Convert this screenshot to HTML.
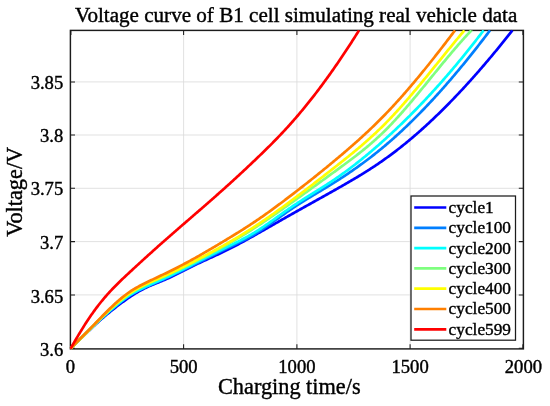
<!DOCTYPE html>
<html><head><meta charset="utf-8"><title>Voltage curve</title>
<style>
html,body{margin:0;padding:0;background:#fff;}
svg{display:block;font-family:"Liberation Serif","Times New Roman",serif;fill:#000;}
text{stroke:#000;stroke-width:0.4px;}
.tick{font-size:18.6px;}
.lab{font-size:22.3px;}
.ttl{font-size:21.1px;}
.leg{font-size:17.3px;}
</style></head><body>
<svg width="550" height="406" viewBox="0 0 550 406">
<rect x="0" y="0" width="550" height="406" fill="#fff"/>
<!-- grid -->
<g stroke="#dcdcdc" stroke-width="0.85" fill="none">
<line x1="183.6" y1="30.4" x2="183.6" y2="348.9"/>
<line x1="296.9" y1="30.4" x2="296.9" y2="348.9"/>
<line x1="410.1" y1="30.4" x2="410.1" y2="348.9"/>
<line x1="70.4" y1="294.9" x2="523.4" y2="294.9"/>
<line x1="70.4" y1="241.6" x2="523.4" y2="241.6"/>
<line x1="70.4" y1="188.3" x2="523.4" y2="188.3"/>
<line x1="70.4" y1="135.0" x2="523.4" y2="135.0"/>
<line x1="70.4" y1="81.9" x2="523.4" y2="81.9"/>
</g>
<!-- axes box and ticks -->
<g stroke="#1c1c1c" stroke-width="1.45" fill="none">
<rect x="70.4" y="30.4" width="453" height="318.5"/>
</g>
<g stroke="#1c1c1c" stroke-width="1.05" fill="none">
<path d="M183.6,348.9v-4.6M296.9,348.9v-4.6M410.1,348.9v-4.6M183.6,30.4v4.6M296.9,30.4v4.6M410.1,30.4v4.6"/>
<path d="M70.4,294.9h4.6M70.4,241.6h4.6M70.4,188.3h4.6M70.4,135.0h4.6M70.4,81.9h4.6M523.4,294.9h-4.6M523.4,241.6h-4.6M523.4,188.3h-4.6M523.4,135.0h-4.6M523.4,81.9h-4.6"/>
<path d="M70.4,348.3h4.6M523.4,348.3h-4.6M70.9,348.9v-4.6M522.9,348.9v-4.6M70.9,30.4v4.6M522.9,30.4v4.6"/>
</g>
<defs><clipPath id="bx"><rect x="69.7" y="29.7" width="454.4" height="319.9"/></clipPath></defs>
<g clip-path="url(#bx)">
<path d="M70.40,348.80 L71.40,347.79 L72.40,346.78 L73.40,345.78 L74.40,344.79 L75.40,343.79 L76.40,342.81 L77.40,341.82 L78.40,340.84 L79.40,339.86 L80.40,338.89 L81.40,337.91 L82.40,336.94 L83.40,335.97 L84.40,335.00 L85.40,334.04 L86.40,333.07 L87.40,332.10 L88.40,331.14 L89.40,330.18 L90.40,329.22 L91.40,328.27 L92.40,327.32 L93.40,326.38 L94.40,325.44 L95.40,324.51 L96.40,323.58 L97.40,322.67 L98.40,321.76 L99.40,320.86 L100.40,319.97 L101.40,319.09 L102.40,318.22 L103.40,317.36 L104.40,316.50 L105.40,315.66 L106.40,314.82 L107.40,313.99 L108.40,313.17 L109.40,312.36 L110.40,311.55 L111.40,310.75 L112.40,309.95 L113.40,309.16 L114.40,308.37 L115.40,307.59 L116.40,306.81 L117.40,306.04 L118.40,305.28 L119.40,304.52 L120.40,303.76 L121.40,303.01 L122.40,302.27 L123.40,301.54 L124.40,300.81 L125.40,300.09 L126.40,299.38 L127.40,298.68 L128.40,297.99 L129.40,297.31 L130.40,296.64 L131.40,295.98 L132.40,295.32 L133.40,294.68 L134.40,294.05 L135.40,293.44 L136.40,292.83 L137.40,292.24 L138.40,291.65 L139.40,291.08 L140.40,290.52 L141.40,289.98 L142.40,289.45 L143.40,288.93 L144.40,288.42 L145.40,287.93 L146.40,287.45 L147.40,286.99 L148.40,286.54 L149.40,286.09 L150.40,285.66 L151.40,285.23 L152.40,284.81 L153.40,284.40 L154.40,283.99 L155.40,283.58 L156.40,283.18 L157.40,282.78 L158.40,282.38 L159.40,281.98 L160.40,281.57 L161.40,281.17 L162.40,280.76 L163.40,280.34 L164.40,279.92 L165.40,279.49 L166.40,279.06 L167.40,278.61 L168.40,278.16 L169.40,277.71 L170.40,277.24 L171.40,276.77 L172.40,276.30 L173.40,275.82 L174.40,275.34 L175.40,274.85 L176.40,274.36 L177.40,273.86 L178.40,273.36 L179.40,272.86 L180.40,272.36 L181.40,271.86 L182.40,271.35 L183.40,270.84 L184.40,270.34 L185.40,269.83 L186.40,269.32 L187.40,268.82 L188.40,268.31 L189.40,267.81 L190.40,267.31 L191.40,266.81 L192.40,266.31 L193.40,265.82 L194.40,265.33 L195.40,264.84 L196.40,264.36 L197.40,263.88 L198.40,263.40 L199.40,262.93 L200.40,262.46 L201.40,262.00 L202.40,261.53 L203.40,261.07 L204.40,260.61 L205.40,260.16 L206.40,259.70 L207.40,259.24 L208.40,258.79 L209.40,258.33 L210.40,257.88 L211.40,257.42 L212.40,256.97 L213.40,256.51 L214.40,256.05 L215.40,255.59 L216.40,255.13 L217.40,254.67 L218.40,254.21 L219.40,253.74 L220.40,253.27 L221.40,252.80 L222.40,252.33 L223.40,251.85 L224.40,251.36 L225.40,250.88 L226.40,250.39 L227.40,249.89 L228.40,249.39 L229.40,248.89 L230.40,248.38 L231.40,247.87 L232.40,247.36 L233.40,246.84 L234.40,246.32 L235.40,245.79 L236.40,245.27 L237.40,244.74 L238.40,244.21 L239.40,243.67 L240.40,243.13 L241.40,242.59 L242.40,242.05 L243.40,241.50 L244.40,240.95 L245.40,240.41 L246.40,239.85 L247.40,239.30 L248.40,238.75 L249.40,238.19 L250.40,237.63 L251.40,237.07 L252.40,236.51 L253.40,235.95 L254.40,235.39 L255.40,234.82 L256.40,234.26 L257.40,233.69 L258.40,233.13 L259.40,232.56 L260.40,231.99 L261.40,231.43 L262.40,230.86 L263.40,230.29 L264.40,229.72 L265.40,229.15 L266.40,228.58 L267.40,228.01 L268.40,227.44 L269.40,226.87 L270.40,226.30 L271.40,225.73 L272.40,225.16 L273.40,224.59 L274.40,224.01 L275.40,223.44 L276.40,222.87 L277.40,222.30 L278.40,221.73 L279.40,221.16 L280.40,220.59 L281.40,220.02 L282.40,219.45 L283.40,218.88 L284.40,218.31 L285.40,217.74 L286.40,217.17 L287.40,216.61 L288.40,216.04 L289.40,215.47 L290.40,214.91 L291.40,214.34 L292.40,213.78 L293.40,213.22 L294.40,212.65 L295.40,212.09 L296.40,211.53 L297.40,210.97 L298.40,210.41 L299.40,209.85 L300.40,209.29 L301.40,208.73 L302.40,208.17 L303.40,207.61 L304.40,207.05 L305.40,206.49 L306.40,205.93 L307.40,205.37 L308.40,204.82 L309.40,204.26 L310.40,203.70 L311.40,203.14 L312.40,202.59 L313.40,202.03 L314.40,201.47 L315.40,200.92 L316.40,200.36 L317.40,199.80 L318.40,199.24 L319.40,198.68 L320.40,198.13 L321.40,197.57 L322.40,197.01 L323.40,196.45 L324.40,195.89 L325.40,195.33 L326.40,194.77 L327.40,194.21 L328.40,193.65 L329.40,193.09 L330.40,192.53 L331.40,191.97 L332.40,191.41 L333.40,190.84 L334.40,190.28 L335.40,189.72 L336.40,189.15 L337.40,188.59 L338.40,188.02 L339.40,187.45 L340.40,186.88 L341.40,186.31 L342.40,185.74 L343.40,185.17 L344.40,184.60 L345.40,184.02 L346.40,183.44 L347.40,182.86 L348.40,182.28 L349.40,181.70 L350.40,181.12 L351.40,180.53 L352.40,179.94 L353.40,179.35 L354.40,178.76 L355.40,178.16 L356.40,177.57 L357.40,176.97 L358.40,176.36 L359.40,175.76 L360.40,175.15 L361.40,174.54 L362.40,173.92 L363.40,173.30 L364.40,172.68 L365.40,172.06 L366.40,171.43 L367.40,170.80 L368.40,170.16 L369.40,169.52 L370.40,168.88 L371.40,168.23 L372.40,167.58 L373.40,166.93 L374.40,166.27 L375.40,165.61 L376.40,164.94 L377.40,164.27 L378.40,163.59 L379.40,162.91 L380.40,162.22 L381.40,161.53 L382.40,160.84 L383.40,160.14 L384.40,159.43 L385.40,158.72 L386.40,158.01 L387.40,157.28 L388.40,156.56 L389.40,155.83 L390.40,155.09 L391.40,154.35 L392.40,153.60 L393.40,152.85 L394.40,152.09 L395.40,151.33 L396.40,150.56 L397.40,149.79 L398.40,149.01 L399.40,148.23 L400.40,147.44 L401.40,146.65 L402.40,145.85 L403.40,145.05 L404.40,144.24 L405.40,143.43 L406.40,142.61 L407.40,141.79 L408.40,140.96 L409.40,140.13 L410.40,139.29 L411.40,138.45 L412.40,137.60 L413.40,136.75 L414.40,135.90 L415.40,135.03 L416.40,134.17 L417.40,133.30 L418.40,132.42 L419.40,131.54 L420.40,130.65 L421.40,129.76 L422.40,128.87 L423.40,127.97 L424.40,127.06 L425.40,126.15 L426.40,125.24 L427.40,124.32 L428.40,123.40 L429.40,122.47 L430.40,121.54 L431.40,120.60 L432.40,119.66 L433.40,118.71 L434.40,117.76 L435.40,116.80 L436.40,115.84 L437.40,114.88 L438.40,113.91 L439.40,112.93 L440.40,111.95 L441.40,110.97 L442.40,109.98 L443.40,108.99 L444.40,107.99 L445.40,106.99 L446.40,105.99 L447.40,104.98 L448.40,103.96 L449.40,102.94 L450.40,101.92 L451.40,100.89 L452.40,99.86 L453.40,98.82 L454.40,97.78 L455.40,96.74 L456.40,95.69 L457.40,94.63 L458.40,93.57 L459.40,92.51 L460.40,91.44 L461.40,90.37 L462.40,89.30 L463.40,88.22 L464.40,87.13 L465.40,86.05 L466.40,84.95 L467.40,83.86 L468.40,82.76 L469.40,81.65 L470.40,80.54 L471.40,79.43 L472.40,78.31 L473.40,77.19 L474.40,76.06 L475.40,74.93 L476.40,73.80 L477.40,72.66 L478.40,71.52 L479.40,70.37 L480.40,69.22 L481.40,68.07 L482.40,66.91 L483.40,65.75 L484.40,64.58 L485.40,63.41 L486.40,62.24 L487.40,61.06 L488.40,59.88 L489.40,58.69 L490.40,57.50 L491.40,56.31 L492.40,55.11 L493.40,53.91 L494.40,52.71 L495.40,51.50 L496.40,50.28 L497.40,49.07 L498.40,47.85 L499.40,46.62 L500.40,45.39 L501.40,44.16 L502.40,42.93 L503.40,41.69 L504.40,40.44 L505.40,39.20 L506.40,37.95 L507.40,36.69 L508.40,35.43 L509.40,34.17 L510.40,32.91 L511.40,31.64 L512.37,30.40" fill="none" stroke="#0000ff" stroke-width="2.7" stroke-linejoin="round"/>
<path d="M70.40,348.80 L71.40,347.77 L72.40,346.75 L73.40,345.74 L74.40,344.73 L75.40,343.73 L76.40,342.74 L77.40,341.75 L78.40,340.77 L79.40,339.78 L80.40,338.80 L81.40,337.83 L82.40,336.85 L83.40,335.87 L84.40,334.89 L85.40,333.91 L86.40,332.93 L87.40,331.95 L88.40,330.96 L89.40,329.98 L90.40,329.00 L91.40,328.02 L92.40,327.04 L93.40,326.06 L94.40,325.09 L95.40,324.13 L96.40,323.17 L97.40,322.21 L98.40,321.27 L99.40,320.33 L100.40,319.40 L101.40,318.47 L102.40,317.56 L103.40,316.66 L104.40,315.76 L105.40,314.87 L106.40,313.99 L107.40,313.12 L108.40,312.25 L109.40,311.39 L110.40,310.54 L111.40,309.69 L112.40,308.85 L113.40,308.01 L114.40,307.18 L115.40,306.36 L116.40,305.54 L117.40,304.72 L118.40,303.92 L119.40,303.12 L120.40,302.33 L121.40,301.55 L122.40,300.78 L123.40,300.02 L124.40,299.28 L125.40,298.55 L126.40,297.84 L127.40,297.14 L128.40,296.46 L129.40,295.79 L130.40,295.15 L131.40,294.52 L132.40,293.92 L133.40,293.33 L134.40,292.75 L135.40,292.20 L136.40,291.65 L137.40,291.12 L138.40,290.60 L139.40,290.10 L140.40,289.60 L141.40,289.11 L142.40,288.63 L143.40,288.16 L144.40,287.70 L145.40,287.24 L146.40,286.79 L147.40,286.34 L148.40,285.90 L149.40,285.45 L150.40,285.02 L151.40,284.58 L152.40,284.15 L153.40,283.72 L154.40,283.29 L155.40,282.86 L156.40,282.43 L157.40,282.00 L158.40,281.57 L159.40,281.14 L160.40,280.71 L161.40,280.28 L162.40,279.84 L163.40,279.41 L164.40,278.97 L165.40,278.52 L166.40,278.07 L167.40,277.62 L168.40,277.16 L169.40,276.70 L170.40,276.24 L171.40,275.78 L172.40,275.31 L173.40,274.84 L174.40,274.36 L175.40,273.88 L176.40,273.40 L177.40,272.92 L178.40,272.44 L179.40,271.95 L180.40,271.46 L181.40,270.97 L182.40,270.48 L183.40,269.98 L184.40,269.49 L185.40,268.99 L186.40,268.49 L187.40,267.99 L188.40,267.49 L189.40,266.99 L190.40,266.49 L191.40,265.98 L192.40,265.48 L193.40,264.97 L194.40,264.47 L195.40,263.96 L196.40,263.46 L197.40,262.96 L198.40,262.45 L199.40,261.95 L200.40,261.44 L201.40,260.94 L202.40,260.43 L203.40,259.93 L204.40,259.43 L205.40,258.93 L206.40,258.42 L207.40,257.92 L208.40,257.42 L209.40,256.92 L210.40,256.42 L211.40,255.93 L212.40,255.43 L213.40,254.93 L214.40,254.44 L215.40,253.94 L216.40,253.45 L217.40,252.96 L218.40,252.47 L219.40,251.98 L220.40,251.49 L221.40,251.01 L222.40,250.52 L223.40,250.04 L224.40,249.56 L225.40,249.08 L226.40,248.60 L227.40,248.12 L228.40,247.65 L229.40,247.17 L230.40,246.70 L231.40,246.22 L232.40,245.74 L233.40,245.27 L234.40,244.79 L235.40,244.31 L236.40,243.82 L237.40,243.34 L238.40,242.85 L239.40,242.35 L240.40,241.86 L241.40,241.36 L242.40,240.85 L243.40,240.34 L244.40,239.83 L245.40,239.31 L246.40,238.78 L247.40,238.24 L248.40,237.70 L249.40,237.15 L250.40,236.60 L251.40,236.03 L252.40,235.46 L253.40,234.88 L254.40,234.29 L255.40,233.69 L256.40,233.08 L257.40,232.46 L258.40,231.83 L259.40,231.19 L260.40,230.55 L261.40,229.90 L262.40,229.24 L263.40,228.57 L264.40,227.90 L265.40,227.22 L266.40,226.54 L267.40,225.85 L268.40,225.16 L269.40,224.46 L270.40,223.76 L271.40,223.06 L272.40,222.35 L273.40,221.64 L274.40,220.93 L275.40,220.22 L276.40,219.51 L277.40,218.80 L278.40,218.08 L279.40,217.37 L280.40,216.66 L281.40,215.95 L282.40,215.24 L283.40,214.53 L284.40,213.83 L285.40,213.13 L286.40,212.43 L287.40,211.74 L288.40,211.05 L289.40,210.37 L290.40,209.69 L291.40,209.02 L292.40,208.35 L293.40,207.69 L294.40,207.03 L295.40,206.37 L296.40,205.73 L297.40,205.08 L298.40,204.44 L299.40,203.81 L300.40,203.17 L301.40,202.54 L302.40,201.92 L303.40,201.29 L304.40,200.67 L305.40,200.06 L306.40,199.44 L307.40,198.83 L308.40,198.22 L309.40,197.61 L310.40,197.01 L311.40,196.40 L312.40,195.80 L313.40,195.19 L314.40,194.59 L315.40,193.99 L316.40,193.39 L317.40,192.79 L318.40,192.19 L319.40,191.59 L320.40,190.99 L321.40,190.39 L322.40,189.79 L323.40,189.19 L324.40,188.58 L325.40,187.98 L326.40,187.37 L327.40,186.76 L328.40,186.16 L329.40,185.54 L330.40,184.93 L331.40,184.31 L332.40,183.70 L333.40,183.07 L334.40,182.45 L335.40,181.82 L336.40,181.19 L337.40,180.56 L338.40,179.92 L339.40,179.28 L340.40,178.63 L341.40,177.98 L342.40,177.33 L343.40,176.68 L344.40,176.02 L345.40,175.36 L346.40,174.69 L347.40,174.02 L348.40,173.34 L349.40,172.67 L350.40,171.98 L351.40,171.30 L352.40,170.61 L353.40,169.91 L354.40,169.22 L355.40,168.51 L356.40,167.81 L357.40,167.10 L358.40,166.38 L359.40,165.66 L360.40,164.94 L361.40,164.21 L362.40,163.48 L363.40,162.75 L364.40,162.01 L365.40,161.26 L366.40,160.51 L367.40,159.76 L368.40,159.00 L369.40,158.23 L370.40,157.47 L371.40,156.69 L372.40,155.92 L373.40,155.13 L374.40,154.35 L375.40,153.55 L376.40,152.76 L377.40,151.95 L378.40,151.15 L379.40,150.33 L380.40,149.52 L381.40,148.69 L382.40,147.87 L383.40,147.03 L384.40,146.20 L385.40,145.35 L386.40,144.50 L387.40,143.65 L388.40,142.79 L389.40,141.93 L390.40,141.06 L391.40,140.18 L392.40,139.30 L393.40,138.42 L394.40,137.52 L395.40,136.63 L396.40,135.73 L397.40,134.82 L398.40,133.91 L399.40,132.99 L400.40,132.07 L401.40,131.15 L402.40,130.21 L403.40,129.28 L404.40,128.33 L405.40,127.39 L406.40,126.44 L407.40,125.48 L408.40,124.52 L409.40,123.55 L410.40,122.58 L411.40,121.60 L412.40,120.62 L413.40,119.63 L414.40,118.64 L415.40,117.64 L416.40,116.64 L417.40,115.63 L418.40,114.62 L419.40,113.61 L420.40,112.59 L421.40,111.56 L422.40,110.53 L423.40,109.49 L424.40,108.45 L425.40,107.41 L426.40,106.36 L427.40,105.30 L428.40,104.24 L429.40,103.18 L430.40,102.11 L431.40,101.04 L432.40,99.96 L433.40,98.88 L434.40,97.79 L435.40,96.70 L436.40,95.60 L437.40,94.50 L438.40,93.39 L439.40,92.28 L440.40,91.16 L441.40,90.04 L442.40,88.92 L443.40,87.79 L444.40,86.66 L445.40,85.52 L446.40,84.38 L447.40,83.23 L448.40,82.08 L449.40,80.92 L450.40,79.76 L451.40,78.60 L452.40,77.43 L453.40,76.25 L454.40,75.08 L455.40,73.89 L456.40,72.71 L457.40,71.51 L458.40,70.32 L459.40,69.12 L460.40,67.92 L461.40,66.71 L462.40,65.49 L463.40,64.28 L464.40,63.06 L465.40,61.83 L466.40,60.60 L467.40,59.37 L468.40,58.13 L469.40,56.89 L470.40,55.64 L471.40,54.39 L472.40,53.13 L473.40,51.87 L474.40,50.61 L475.40,49.34 L476.40,48.07 L477.40,46.80 L478.40,45.52 L479.40,44.23 L480.40,42.95 L481.40,41.65 L482.40,40.36 L483.40,39.06 L484.40,37.75 L485.40,36.45 L486.40,35.13 L487.40,33.82 L488.40,32.50 L489.40,31.18 L489.98,30.40" fill="none" stroke="#007fff" stroke-width="2.7" stroke-linejoin="round"/>
<path d="M70.40,348.80 L71.40,347.77 L72.40,346.74 L73.40,345.73 L74.40,344.72 L75.40,343.72 L76.40,342.73 L77.40,341.74 L78.40,340.75 L79.40,339.77 L80.40,338.78 L81.40,337.80 L82.40,336.82 L83.40,335.84 L84.40,334.86 L85.40,333.87 L86.40,332.89 L87.40,331.90 L88.40,330.90 L89.40,329.91 L90.40,328.92 L91.40,327.93 L92.40,326.94 L93.40,325.96 L94.40,324.97 L95.40,324.00 L96.40,323.02 L97.40,322.06 L98.40,321.09 L99.40,320.14 L100.40,319.19 L101.40,318.26 L102.40,317.33 L103.40,316.41 L104.40,315.49 L105.40,314.59 L106.40,313.69 L107.40,312.80 L108.40,311.92 L109.40,311.04 L110.40,310.17 L111.40,309.31 L112.40,308.46 L113.40,307.61 L114.40,306.77 L115.40,305.94 L116.40,305.11 L117.40,304.29 L118.40,303.48 L119.40,302.68 L120.40,301.88 L121.40,301.10 L122.40,300.33 L123.40,299.58 L124.40,298.83 L125.40,298.11 L126.40,297.39 L127.40,296.70 L128.40,296.02 L129.40,295.36 L130.40,294.71 L131.40,294.09 L132.40,293.48 L133.40,292.90 L134.40,292.32 L135.40,291.77 L136.40,291.22 L137.40,290.69 L138.40,290.17 L139.40,289.67 L140.40,289.17 L141.40,288.68 L142.40,288.20 L143.40,287.72 L144.40,287.26 L145.40,286.79 L146.40,286.33 L147.40,285.88 L148.40,285.43 L149.40,284.98 L150.40,284.53 L151.40,284.09 L152.40,283.64 L153.40,283.20 L154.40,282.76 L155.40,282.32 L156.40,281.88 L157.40,281.44 L158.40,281.00 L159.40,280.55 L160.40,280.11 L161.40,279.66 L162.40,279.21 L163.40,278.76 L164.40,278.30 L165.40,277.84 L166.40,277.38 L167.40,276.91 L168.40,276.44 L169.40,275.96 L170.40,275.49 L171.40,275.00 L172.40,274.52 L173.40,274.03 L174.40,273.54 L175.40,273.05 L176.40,272.55 L177.40,272.06 L178.40,271.56 L179.40,271.05 L180.40,270.55 L181.40,270.04 L182.40,269.54 L183.40,269.03 L184.40,268.52 L185.40,268.01 L186.40,267.50 L187.40,266.98 L188.40,266.47 L189.40,265.96 L190.40,265.44 L191.40,264.93 L192.40,264.42 L193.40,263.90 L194.40,263.39 L195.40,262.88 L196.40,262.37 L197.40,261.85 L198.40,261.34 L199.40,260.83 L200.40,260.32 L201.40,259.81 L202.40,259.31 L203.40,258.80 L204.40,258.29 L205.40,257.78 L206.40,257.28 L207.40,256.77 L208.40,256.27 L209.40,255.77 L210.40,255.26 L211.40,254.76 L212.40,254.26 L213.40,253.76 L214.40,253.26 L215.40,252.76 L216.40,252.26 L217.40,251.76 L218.40,251.27 L219.40,250.77 L220.40,250.28 L221.40,249.78 L222.40,249.29 L223.40,248.80 L224.40,248.31 L225.40,247.81 L226.40,247.32 L227.40,246.84 L228.40,246.35 L229.40,245.86 L230.40,245.37 L231.40,244.87 L232.40,244.38 L233.40,243.89 L234.40,243.39 L235.40,242.89 L236.40,242.39 L237.40,241.89 L238.40,241.38 L239.40,240.87 L240.40,240.36 L241.40,239.84 L242.40,239.32 L243.40,238.79 L244.40,238.25 L245.40,237.71 L246.40,237.17 L247.40,236.62 L248.40,236.06 L249.40,235.50 L250.40,234.92 L251.40,234.34 L252.40,233.76 L253.40,233.16 L254.40,232.56 L255.40,231.94 L256.40,231.32 L257.40,230.69 L258.40,230.05 L259.40,229.41 L260.40,228.75 L261.40,228.09 L262.40,227.42 L263.40,226.75 L264.40,226.07 L265.40,225.39 L266.40,224.70 L267.40,224.00 L268.40,223.31 L269.40,222.61 L270.40,221.90 L271.40,221.19 L272.40,220.48 L273.40,219.77 L274.40,219.06 L275.40,218.35 L276.40,217.63 L277.40,216.91 L278.40,216.20 L279.40,215.48 L280.40,214.77 L281.40,214.06 L282.40,213.34 L283.40,212.64 L284.40,211.93 L285.40,211.23 L286.40,210.52 L287.40,209.83 L288.40,209.14 L289.40,208.45 L290.40,207.76 L291.40,207.09 L292.40,206.41 L293.40,205.74 L294.40,205.08 L295.40,204.42 L296.40,203.76 L297.40,203.11 L298.40,202.46 L299.40,201.82 L300.40,201.17 L301.40,200.54 L302.40,199.90 L303.40,199.26 L304.40,198.63 L305.40,198.00 L306.40,197.37 L307.40,196.74 L308.40,196.12 L309.40,195.49 L310.40,194.87 L311.40,194.24 L312.40,193.62 L313.40,193.00 L314.40,192.37 L315.40,191.75 L316.40,191.12 L317.40,190.50 L318.40,189.87 L319.40,189.24 L320.40,188.61 L321.40,187.98 L322.40,187.35 L323.40,186.71 L324.40,186.08 L325.40,185.44 L326.40,184.79 L327.40,184.15 L328.40,183.50 L329.40,182.84 L330.40,182.19 L331.40,181.52 L332.40,180.86 L333.40,180.19 L334.40,179.51 L335.40,178.83 L336.40,178.15 L337.40,177.46 L338.40,176.76 L339.40,176.06 L340.40,175.36 L341.40,174.65 L342.40,173.94 L343.40,173.22 L344.40,172.49 L345.40,171.76 L346.40,171.03 L347.40,170.29 L348.40,169.55 L349.40,168.80 L350.40,168.04 L351.40,167.29 L352.40,166.52 L353.40,165.76 L354.40,164.98 L355.40,164.21 L356.40,163.43 L357.40,162.64 L358.40,161.85 L359.40,161.06 L360.40,160.26 L361.40,159.45 L362.40,158.65 L363.40,157.83 L364.40,157.02 L365.40,156.20 L366.40,155.37 L367.40,154.54 L368.40,153.71 L369.40,152.87 L370.40,152.03 L371.40,151.18 L372.40,150.33 L373.40,149.48 L374.40,148.62 L375.40,147.75 L376.40,146.89 L377.40,146.02 L378.40,145.14 L379.40,144.26 L380.40,143.38 L381.40,142.49 L382.40,141.60 L383.40,140.71 L384.40,139.81 L385.40,138.91 L386.40,138.00 L387.40,137.09 L388.40,136.17 L389.40,135.26 L390.40,134.34 L391.40,133.41 L392.40,132.48 L393.40,131.55 L394.40,130.61 L395.40,129.67 L396.40,128.72 L397.40,127.77 L398.40,126.82 L399.40,125.86 L400.40,124.90 L401.40,123.94 L402.40,122.97 L403.40,122.00 L404.40,121.02 L405.40,120.04 L406.40,119.06 L407.40,118.07 L408.40,117.08 L409.40,116.08 L410.40,115.08 L411.40,114.07 L412.40,113.07 L413.40,112.05 L414.40,111.04 L415.40,110.02 L416.40,108.99 L417.40,107.96 L418.40,106.93 L419.40,105.89 L420.40,104.85 L421.40,103.80 L422.40,102.76 L423.40,101.70 L424.40,100.64 L425.40,99.58 L426.40,98.52 L427.40,97.45 L428.40,96.37 L429.40,95.29 L430.40,94.21 L431.40,93.12 L432.40,92.03 L433.40,90.94 L434.40,89.84 L435.40,88.74 L436.40,87.63 L437.40,86.52 L438.40,85.40 L439.40,84.28 L440.40,83.15 L441.40,82.03 L442.40,80.89 L443.40,79.75 L444.40,78.61 L445.40,77.47 L446.40,76.32 L447.40,75.16 L448.40,74.00 L449.40,72.84 L450.40,71.67 L451.40,70.50 L452.40,69.32 L453.40,68.14 L454.40,66.96 L455.40,65.77 L456.40,64.57 L457.40,63.38 L458.40,62.17 L459.40,60.97 L460.40,59.75 L461.40,58.54 L462.40,57.32 L463.40,56.09 L464.40,54.86 L465.40,53.63 L466.40,52.39 L467.40,51.15 L468.40,49.90 L469.40,48.65 L470.40,47.39 L471.40,46.13 L472.40,44.87 L473.40,43.60 L474.40,42.33 L475.40,41.05 L476.40,39.76 L477.40,38.48 L478.40,37.18 L479.40,35.89 L480.40,34.58 L481.40,33.28 L482.40,31.97 L483.40,30.65 L483.59,30.40" fill="none" stroke="#00ffff" stroke-width="2.7" stroke-linejoin="round"/>
<path d="M70.40,348.80 L71.40,347.77 L72.40,346.74 L73.40,345.72 L74.40,344.71 L75.40,343.70 L76.40,342.69 L77.40,341.69 L78.40,340.70 L79.40,339.70 L80.40,338.71 L81.40,337.72 L82.40,336.72 L83.40,335.73 L84.40,334.73 L85.40,333.73 L86.40,332.73 L87.40,331.72 L88.40,330.71 L89.40,329.70 L90.40,328.69 L91.40,327.68 L92.40,326.67 L93.40,325.66 L94.40,324.66 L95.40,323.65 L96.40,322.65 L97.40,321.66 L98.40,320.67 L99.40,319.68 L100.40,318.70 L101.40,317.73 L102.40,316.76 L103.40,315.80 L104.40,314.85 L105.40,313.90 L106.40,312.96 L107.40,312.03 L108.40,311.11 L109.40,310.19 L110.40,309.28 L111.40,308.38 L112.40,307.49 L113.40,306.61 L114.40,305.74 L115.40,304.87 L116.40,304.02 L117.40,303.17 L118.40,302.34 L119.40,301.51 L120.40,300.70 L121.40,299.90 L122.40,299.11 L123.40,298.33 L124.40,297.57 L125.40,296.82 L126.40,296.08 L127.40,295.36 L128.40,294.66 L129.40,293.97 L130.40,293.30 L131.40,292.64 L132.40,292.00 L133.40,291.37 L134.40,290.76 L135.40,290.17 L136.40,289.58 L137.40,289.01 L138.40,288.45 L139.40,287.91 L140.40,287.37 L141.40,286.85 L142.40,286.34 L143.40,285.83 L144.40,285.34 L145.40,284.85 L146.40,284.38 L147.40,283.91 L148.40,283.44 L149.40,282.98 L150.40,282.53 L151.40,282.09 L152.40,281.64 L153.40,281.20 L154.40,280.77 L155.40,280.33 L156.40,279.90 L157.40,279.47 L158.40,279.04 L159.40,278.62 L160.40,278.19 L161.40,277.76 L162.40,277.32 L163.40,276.89 L164.40,276.45 L165.40,276.01 L166.40,275.56 L167.40,275.12 L168.40,274.66 L169.40,274.21 L170.40,273.75 L171.40,273.28 L172.40,272.82 L173.40,272.35 L174.40,271.88 L175.40,271.40 L176.40,270.93 L177.40,270.44 L178.40,269.96 L179.40,269.48 L180.40,268.99 L181.40,268.50 L182.40,268.01 L183.40,267.51 L184.40,267.02 L185.40,266.52 L186.40,266.02 L187.40,265.52 L188.40,265.01 L189.40,264.51 L190.40,264.00 L191.40,263.50 L192.40,262.99 L193.40,262.48 L194.40,261.97 L195.40,261.46 L196.40,260.95 L197.40,260.44 L198.40,259.92 L199.40,259.41 L200.40,258.89 L201.40,258.38 L202.40,257.86 L203.40,257.34 L204.40,256.82 L205.40,256.30 L206.40,255.78 L207.40,255.26 L208.40,254.73 L209.40,254.21 L210.40,253.68 L211.40,253.15 L212.40,252.62 L213.40,252.08 L214.40,251.55 L215.40,251.01 L216.40,250.47 L217.40,249.93 L218.40,249.39 L219.40,248.84 L220.40,248.29 L221.40,247.74 L222.40,247.19 L223.40,246.64 L224.40,246.08 L225.40,245.52 L226.40,244.95 L227.40,244.39 L228.40,243.82 L229.40,243.25 L230.40,242.68 L231.40,242.10 L232.40,241.52 L233.40,240.94 L234.40,240.35 L235.40,239.77 L236.40,239.18 L237.40,238.58 L238.40,237.99 L239.40,237.39 L240.40,236.79 L241.40,236.18 L242.40,235.58 L243.40,234.97 L244.40,234.36 L245.40,233.74 L246.40,233.12 L247.40,232.50 L248.40,231.88 L249.40,231.25 L250.40,230.62 L251.40,229.99 L252.40,229.35 L253.40,228.71 L254.40,228.07 L255.40,227.42 L256.40,226.78 L257.40,226.13 L258.40,225.47 L259.40,224.82 L260.40,224.16 L261.40,223.50 L262.40,222.83 L263.40,222.17 L264.40,221.50 L265.40,220.82 L266.40,220.15 L267.40,219.47 L268.40,218.80 L269.40,218.12 L270.40,217.43 L271.40,216.75 L272.40,216.06 L273.40,215.38 L274.40,214.69 L275.40,213.99 L276.40,213.30 L277.40,212.61 L278.40,211.91 L279.40,211.21 L280.40,210.51 L281.40,209.81 L282.40,209.11 L283.40,208.41 L284.40,207.70 L285.40,207.00 L286.40,206.29 L287.40,205.59 L288.40,204.88 L289.40,204.17 L290.40,203.46 L291.40,202.75 L292.40,202.04 L293.40,201.33 L294.40,200.62 L295.40,199.91 L296.40,199.19 L297.40,198.48 L298.40,197.77 L299.40,197.05 L300.40,196.34 L301.40,195.62 L302.40,194.90 L303.40,194.19 L304.40,193.47 L305.40,192.75 L306.40,192.03 L307.40,191.32 L308.40,190.60 L309.40,189.88 L310.40,189.16 L311.40,188.44 L312.40,187.72 L313.40,187.00 L314.40,186.27 L315.40,185.55 L316.40,184.83 L317.40,184.11 L318.40,183.38 L319.40,182.66 L320.40,181.94 L321.40,181.21 L322.40,180.49 L323.40,179.77 L324.40,179.04 L325.40,178.32 L326.40,177.59 L327.40,176.87 L328.40,176.14 L329.40,175.42 L330.40,174.69 L331.40,173.97 L332.40,173.24 L333.40,172.51 L334.40,171.79 L335.40,171.06 L336.40,170.34 L337.40,169.61 L338.40,168.88 L339.40,168.15 L340.40,167.42 L341.40,166.69 L342.40,165.96 L343.40,165.23 L344.40,164.49 L345.40,163.76 L346.40,163.02 L347.40,162.28 L348.40,161.53 L349.40,160.78 L350.40,160.03 L351.40,159.28 L352.40,158.52 L353.40,157.76 L354.40,157.00 L355.40,156.23 L356.40,155.45 L357.40,154.68 L358.40,153.89 L359.40,153.11 L360.40,152.31 L361.40,151.52 L362.40,150.71 L363.40,149.90 L364.40,149.09 L365.40,148.27 L366.40,147.44 L367.40,146.60 L368.40,145.76 L369.40,144.92 L370.40,144.06 L371.40,143.20 L372.40,142.33 L373.40,141.45 L374.40,140.56 L375.40,139.67 L376.40,138.76 L377.40,137.85 L378.40,136.93 L379.40,136.00 L380.40,135.06 L381.40,134.11 L382.40,133.15 L383.40,132.19 L384.40,131.21 L385.40,130.22 L386.40,129.22 L387.40,128.21 L388.40,127.19 L389.40,126.16 L390.40,125.12 L391.40,124.07 L392.40,123.02 L393.40,121.95 L394.40,120.88 L395.40,119.80 L396.40,118.71 L397.40,117.61 L398.40,116.50 L399.40,115.39 L400.40,114.27 L401.40,113.14 L402.40,112.00 L403.40,110.86 L404.40,109.72 L405.40,108.56 L406.40,107.40 L407.40,106.24 L408.40,105.07 L409.40,103.89 L410.40,102.71 L411.40,101.53 L412.40,100.34 L413.40,99.14 L414.40,97.95 L415.40,96.75 L416.40,95.54 L417.40,94.33 L418.40,93.12 L419.40,91.91 L420.40,90.69 L421.40,89.47 L422.40,88.25 L423.40,87.02 L424.40,85.80 L425.40,84.57 L426.40,83.34 L427.40,82.11 L428.40,80.88 L429.40,79.65 L430.40,78.42 L431.40,77.19 L432.40,75.96 L433.40,74.73 L434.40,73.50 L435.40,72.27 L436.40,71.04 L437.40,69.81 L438.40,68.58 L439.40,67.36 L440.40,66.14 L441.40,64.92 L442.40,63.70 L443.40,62.48 L444.40,61.27 L445.40,60.06 L446.40,58.85 L447.40,57.65 L448.40,56.45 L449.40,55.26 L450.40,54.06 L451.40,52.88 L452.40,51.69 L453.40,50.52 L454.40,49.34 L455.40,48.18 L456.40,47.02 L457.40,45.86 L458.40,44.71 L459.40,43.57 L460.40,42.43 L461.40,41.30 L462.40,40.17 L463.40,39.06 L464.40,37.95 L465.40,36.85 L466.40,35.75 L467.40,34.67 L468.40,33.59 L469.40,32.52 L470.40,31.46 L471.40,30.41 L471.40,30.40" fill="none" stroke="#7fff7f" stroke-width="2.7" stroke-linejoin="round"/>
<path d="M70.40,348.80 L71.40,347.75 L72.40,346.71 L73.40,345.69 L74.40,344.67 L75.40,343.66 L76.40,342.65 L77.40,341.65 L78.40,340.65 L79.40,339.66 L80.40,338.67 L81.40,337.68 L82.40,336.69 L83.40,335.70 L84.40,334.70 L85.40,333.70 L86.40,332.70 L87.40,331.69 L88.40,330.68 L89.40,329.67 L90.40,328.66 L91.40,327.64 L92.40,326.63 L93.40,325.61 L94.40,324.60 L95.40,323.59 L96.40,322.58 L97.40,321.57 L98.40,320.56 L99.40,319.56 L100.40,318.57 L101.40,317.58 L102.40,316.59 L103.40,315.61 L104.40,314.64 L105.40,313.67 L106.40,312.71 L107.40,311.76 L108.40,310.81 L109.40,309.88 L110.40,308.95 L111.40,308.03 L112.40,307.12 L113.40,306.22 L114.40,305.33 L115.40,304.45 L116.40,303.58 L117.40,302.72 L118.40,301.87 L119.40,301.04 L120.40,300.21 L121.40,299.40 L122.40,298.61 L123.40,297.83 L124.40,297.06 L125.40,296.31 L126.40,295.57 L127.40,294.85 L128.40,294.15 L129.40,293.46 L130.40,292.79 L131.40,292.14 L132.40,291.51 L133.40,290.89 L134.40,290.29 L135.40,289.70 L136.40,289.12 L137.40,288.56 L138.40,288.01 L139.40,287.48 L140.40,286.95 L141.40,286.43 L142.40,285.93 L143.40,285.43 L144.40,284.94 L145.40,284.46 L146.40,283.98 L147.40,283.51 L148.40,283.05 L149.40,282.59 L150.40,282.13 L151.40,281.68 L152.40,281.23 L153.40,280.79 L154.40,280.35 L155.40,279.91 L156.40,279.47 L157.40,279.03 L158.40,278.59 L159.40,278.15 L160.40,277.71 L161.40,277.27 L162.40,276.83 L163.40,276.38 L164.40,275.94 L165.40,275.49 L166.40,275.03 L167.40,274.57 L168.40,274.11 L169.40,273.64 L170.40,273.18 L171.40,272.70 L172.40,272.23 L173.40,271.75 L174.40,271.27 L175.40,270.78 L176.40,270.30 L177.40,269.81 L178.40,269.32 L179.40,268.82 L180.40,268.32 L181.40,267.83 L182.40,267.32 L183.40,266.82 L184.40,266.32 L185.40,265.81 L186.40,265.30 L187.40,264.79 L188.40,264.28 L189.40,263.76 L190.40,263.25 L191.40,262.73 L192.40,262.22 L193.40,261.70 L194.40,261.18 L195.40,260.66 L196.40,260.14 L197.40,259.62 L198.40,259.09 L199.40,258.57 L200.40,258.04 L201.40,257.52 L202.40,256.99 L203.40,256.46 L204.40,255.93 L205.40,255.40 L206.40,254.87 L207.40,254.34 L208.40,253.80 L209.40,253.27 L210.40,252.73 L211.40,252.19 L212.40,251.65 L213.40,251.10 L214.40,250.56 L215.40,250.01 L216.40,249.46 L217.40,248.91 L218.40,248.36 L219.40,247.80 L220.40,247.24 L221.40,246.69 L222.40,246.12 L223.40,245.56 L224.40,244.99 L225.40,244.42 L226.40,243.85 L227.40,243.28 L228.40,242.70 L229.40,242.12 L230.40,241.54 L231.40,240.96 L232.40,240.37 L233.40,239.78 L234.40,239.19 L235.40,238.59 L236.40,238.00 L237.40,237.40 L238.40,236.79 L239.40,236.19 L240.40,235.58 L241.40,234.96 L242.40,234.35 L243.40,233.73 L244.40,233.11 L245.40,232.49 L246.40,231.86 L247.40,231.23 L248.40,230.60 L249.40,229.96 L250.40,229.32 L251.40,228.68 L252.40,228.03 L253.40,227.38 L254.40,226.73 L255.40,226.07 L256.40,225.41 L257.40,224.75 L258.40,224.08 L259.40,223.41 L260.40,222.74 L261.40,222.07 L262.40,221.39 L263.40,220.71 L264.40,220.02 L265.40,219.33 L266.40,218.64 L267.40,217.95 L268.40,217.26 L269.40,216.56 L270.40,215.86 L271.40,215.15 L272.40,214.45 L273.40,213.74 L274.40,213.03 L275.40,212.32 L276.40,211.60 L277.40,210.88 L278.40,210.16 L279.40,209.44 L280.40,208.72 L281.40,207.99 L282.40,207.26 L283.40,206.53 L284.40,205.80 L285.40,205.07 L286.40,204.33 L287.40,203.60 L288.40,202.86 L289.40,202.12 L290.40,201.38 L291.40,200.63 L292.40,199.89 L293.40,199.14 L294.40,198.39 L295.40,197.65 L296.40,196.89 L297.40,196.14 L298.40,195.39 L299.40,194.64 L300.40,193.88 L301.40,193.12 L302.40,192.36 L303.40,191.60 L304.40,190.84 L305.40,190.08 L306.40,189.32 L307.40,188.55 L308.40,187.79 L309.40,187.02 L310.40,186.25 L311.40,185.49 L312.40,184.72 L313.40,183.95 L314.40,183.17 L315.40,182.40 L316.40,181.63 L317.40,180.85 L318.40,180.08 L319.40,179.30 L320.40,178.53 L321.40,177.75 L322.40,176.97 L323.40,176.19 L324.40,175.41 L325.40,174.63 L326.40,173.85 L327.40,173.06 L328.40,172.28 L329.40,171.50 L330.40,170.71 L331.40,169.93 L332.40,169.14 L333.40,168.36 L334.40,167.57 L335.40,166.78 L336.40,165.99 L337.40,165.21 L338.40,164.42 L339.40,163.63 L340.40,162.84 L341.40,162.04 L342.40,161.25 L343.40,160.45 L344.40,159.65 L345.40,158.85 L346.40,158.05 L347.40,157.25 L348.40,156.44 L349.40,155.63 L350.40,154.82 L351.40,154.01 L352.40,153.19 L353.40,152.37 L354.40,151.54 L355.40,150.71 L356.40,149.88 L357.40,149.05 L358.40,148.21 L359.40,147.36 L360.40,146.51 L361.40,145.66 L362.40,144.80 L363.40,143.94 L364.40,143.07 L365.40,142.20 L366.40,141.32 L367.40,140.44 L368.40,139.55 L369.40,138.66 L370.40,137.76 L371.40,136.85 L372.40,135.94 L373.40,135.02 L374.40,134.10 L375.40,133.16 L376.40,132.22 L377.40,131.28 L378.40,130.33 L379.40,129.36 L380.40,128.40 L381.40,127.42 L382.40,126.44 L383.40,125.45 L384.40,124.45 L385.40,123.44 L386.40,122.42 L387.40,121.40 L388.40,120.37 L389.40,119.33 L390.40,118.28 L391.40,117.22 L392.40,116.16 L393.40,115.09 L394.40,114.02 L395.40,112.93 L396.40,111.84 L397.40,110.74 L398.40,109.64 L399.40,108.53 L400.40,107.42 L401.40,106.29 L402.40,105.17 L403.40,104.03 L404.40,102.89 L405.40,101.75 L406.40,100.60 L407.40,99.45 L408.40,98.29 L409.40,97.12 L410.40,95.96 L411.40,94.78 L412.40,93.61 L413.40,92.42 L414.40,91.24 L415.40,90.05 L416.40,88.86 L417.40,87.66 L418.40,86.46 L419.40,85.26 L420.40,84.05 L421.40,82.85 L422.40,81.64 L423.40,80.42 L424.40,79.21 L425.40,77.99 L426.40,76.77 L427.40,75.55 L428.40,74.32 L429.40,73.10 L430.40,71.87 L431.40,70.64 L432.40,69.41 L433.40,68.18 L434.40,66.95 L435.40,65.72 L436.40,64.49 L437.40,63.25 L438.40,62.02 L439.40,60.79 L440.40,59.55 L441.40,58.32 L442.40,57.09 L443.40,55.86 L444.40,54.63 L445.40,53.40 L446.40,52.17 L447.40,50.94 L448.40,49.71 L449.40,48.49 L450.40,47.27 L451.40,46.04 L452.40,44.82 L453.40,43.61 L454.40,42.39 L455.40,41.18 L456.40,39.97 L457.40,38.76 L458.40,37.56 L459.40,36.36 L460.40,35.16 L461.40,33.96 L462.40,32.77 L463.40,31.59 L464.40,30.40 L464.40,30.40" fill="none" stroke="#ffff00" stroke-width="2.7" stroke-linejoin="round"/>
<path d="M70.40,348.80 L71.40,347.73 L72.40,346.67 L73.40,345.63 L74.40,344.60 L75.40,343.57 L76.40,342.56 L77.40,341.55 L78.40,340.55 L79.40,339.55 L80.40,338.56 L81.40,337.56 L82.40,336.57 L83.40,335.57 L84.40,334.57 L85.40,333.57 L86.40,332.55 L87.40,331.54 L88.40,330.52 L89.40,329.49 L90.40,328.46 L91.40,327.43 L92.40,326.40 L93.40,325.36 L94.40,324.32 L95.40,323.29 L96.40,322.25 L97.40,321.21 L98.40,320.18 L99.40,319.14 L100.40,318.11 L101.40,317.08 L102.40,316.06 L103.40,315.04 L104.40,314.02 L105.40,313.01 L106.40,312.01 L107.40,311.01 L108.40,310.02 L109.40,309.04 L110.40,308.07 L111.40,307.11 L112.40,306.16 L113.40,305.21 L114.40,304.28 L115.40,303.36 L116.40,302.46 L117.40,301.57 L118.40,300.69 L119.40,299.82 L120.40,298.97 L121.40,298.14 L122.40,297.32 L123.40,296.52 L124.40,295.73 L125.40,294.96 L126.40,294.21 L127.40,293.48 L128.40,292.76 L129.40,292.07 L130.40,291.39 L131.40,290.73 L132.40,290.10 L133.40,289.47 L134.40,288.87 L135.40,288.28 L136.40,287.71 L137.40,287.14 L138.40,286.59 L139.40,286.05 L140.40,285.53 L141.40,285.00 L142.40,284.49 L143.40,283.99 L144.40,283.48 L145.40,282.99 L146.40,282.50 L147.40,282.01 L148.40,281.52 L149.40,281.04 L150.40,280.56 L151.40,280.08 L152.40,279.60 L153.40,279.12 L154.40,278.65 L155.40,278.18 L156.40,277.70 L157.40,277.23 L158.40,276.76 L159.40,276.28 L160.40,275.81 L161.40,275.34 L162.40,274.86 L163.40,274.38 L164.40,273.90 L165.40,273.42 L166.40,272.94 L167.40,272.45 L168.40,271.96 L169.40,271.47 L170.40,270.98 L171.40,270.48 L172.40,269.98 L173.40,269.48 L174.40,268.98 L175.40,268.47 L176.40,267.96 L177.40,267.45 L178.40,266.94 L179.40,266.42 L180.40,265.90 L181.40,265.38 L182.40,264.86 L183.40,264.33 L184.40,263.80 L185.40,263.27 L186.40,262.74 L187.40,262.20 L188.40,261.66 L189.40,261.12 L190.40,260.58 L191.40,260.03 L192.40,259.48 L193.40,258.93 L194.40,258.38 L195.40,257.82 L196.40,257.26 L197.40,256.70 L198.40,256.13 L199.40,255.57 L200.40,255.00 L201.40,254.43 L202.40,253.85 L203.40,253.28 L204.40,252.70 L205.40,252.12 L206.40,251.54 L207.40,250.95 L208.40,250.37 L209.40,249.78 L210.40,249.19 L211.40,248.60 L212.40,248.01 L213.40,247.42 L214.40,246.83 L215.40,246.23 L216.40,245.64 L217.40,245.04 L218.40,244.44 L219.40,243.84 L220.40,243.24 L221.40,242.64 L222.40,242.04 L223.40,241.43 L224.40,240.83 L225.40,240.23 L226.40,239.62 L227.40,239.02 L228.40,238.41 L229.40,237.80 L230.40,237.20 L231.40,236.59 L232.40,235.98 L233.40,235.36 L234.40,234.75 L235.40,234.14 L236.40,233.52 L237.40,232.90 L238.40,232.28 L239.40,231.66 L240.40,231.03 L241.40,230.41 L242.40,229.78 L243.40,229.15 L244.40,228.51 L245.40,227.87 L246.40,227.23 L247.40,226.59 L248.40,225.95 L249.40,225.30 L250.40,224.64 L251.40,223.99 L252.40,223.33 L253.40,222.66 L254.40,222.00 L255.40,221.33 L256.40,220.65 L257.40,219.97 L258.40,219.29 L259.40,218.60 L260.40,217.91 L261.40,217.22 L262.40,216.52 L263.40,215.82 L264.40,215.12 L265.40,214.41 L266.40,213.70 L267.40,212.99 L268.40,212.27 L269.40,211.55 L270.40,210.83 L271.40,210.10 L272.40,209.38 L273.40,208.64 L274.40,207.91 L275.40,207.18 L276.40,206.44 L277.40,205.70 L278.40,204.95 L279.40,204.21 L280.40,203.46 L281.40,202.71 L282.40,201.96 L283.40,201.21 L284.40,200.45 L285.40,199.70 L286.40,198.94 L287.40,198.18 L288.40,197.42 L289.40,196.66 L290.40,195.89 L291.40,195.13 L292.40,194.36 L293.40,193.59 L294.40,192.82 L295.40,192.05 L296.40,191.28 L297.40,190.51 L298.40,189.73 L299.40,188.95 L300.40,188.18 L301.40,187.40 L302.40,186.62 L303.40,185.83 L304.40,185.05 L305.40,184.27 L306.40,183.48 L307.40,182.69 L308.40,181.90 L309.40,181.11 L310.40,180.32 L311.40,179.52 L312.40,178.73 L313.40,177.93 L314.40,177.13 L315.40,176.33 L316.40,175.53 L317.40,174.73 L318.40,173.92 L319.40,173.12 L320.40,172.31 L321.40,171.50 L322.40,170.69 L323.40,169.87 L324.40,169.06 L325.40,168.24 L326.40,167.42 L327.40,166.60 L328.40,165.78 L329.40,164.96 L330.40,164.14 L331.40,163.31 L332.40,162.48 L333.40,161.65 L334.40,160.82 L335.40,159.99 L336.40,159.15 L337.40,158.31 L338.40,157.48 L339.40,156.63 L340.40,155.79 L341.40,154.95 L342.40,154.10 L343.40,153.25 L344.40,152.39 L345.40,151.54 L346.40,150.68 L347.40,149.82 L348.40,148.96 L349.40,148.09 L350.40,147.22 L351.40,146.35 L352.40,145.47 L353.40,144.59 L354.40,143.71 L355.40,142.82 L356.40,141.94 L357.40,141.04 L358.40,140.15 L359.40,139.24 L360.40,138.34 L361.40,137.43 L362.40,136.52 L363.40,135.60 L364.40,134.68 L365.40,133.75 L366.40,132.82 L367.40,131.89 L368.40,130.95 L369.40,130.01 L370.40,129.06 L371.40,128.11 L372.40,127.15 L373.40,126.18 L374.40,125.22 L375.40,124.24 L376.40,123.26 L377.40,122.28 L378.40,121.29 L379.40,120.29 L380.40,119.29 L381.40,118.28 L382.40,117.27 L383.40,116.25 L384.40,115.23 L385.40,114.20 L386.40,113.16 L387.40,112.12 L388.40,111.07 L389.40,110.01 L390.40,108.95 L391.40,107.88 L392.40,106.81 L393.40,105.73 L394.40,104.65 L395.40,103.56 L396.40,102.46 L397.40,101.36 L398.40,100.26 L399.40,99.14 L400.40,98.03 L401.40,96.90 L402.40,95.78 L403.40,94.64 L404.40,93.50 L405.40,92.36 L406.40,91.21 L407.40,90.06 L408.40,88.90 L409.40,87.74 L410.40,86.57 L411.40,85.40 L412.40,84.22 L413.40,83.04 L414.40,81.85 L415.40,80.66 L416.40,79.46 L417.40,78.26 L418.40,77.06 L419.40,75.85 L420.40,74.63 L421.40,73.42 L422.40,72.19 L423.40,70.97 L424.40,69.74 L425.40,68.50 L426.40,67.27 L427.40,66.02 L428.40,64.78 L429.40,63.53 L430.40,62.27 L431.40,61.02 L432.40,59.76 L433.40,58.49 L434.40,57.22 L435.40,55.95 L436.40,54.68 L437.40,53.40 L438.40,52.12 L439.40,50.83 L440.40,49.54 L441.40,48.25 L442.40,46.96 L443.40,45.66 L444.40,44.36 L445.40,43.06 L446.40,41.75 L447.40,40.44 L448.40,39.13 L449.40,37.82 L450.40,36.50 L451.40,35.18 L452.40,33.86 L453.40,32.53 L454.40,31.20 L455.00,30.40" fill="none" stroke="#ff7f00" stroke-width="2.7" stroke-linejoin="round"/>
<path d="M70.40,348.80 L71.40,347.07 L72.40,345.35 L73.40,343.63 L74.40,341.92 L75.40,340.21 L76.40,338.52 L77.40,336.83 L78.40,335.16 L79.40,333.49 L80.40,331.84 L81.40,330.21 L82.40,328.59 L83.40,326.99 L84.40,325.40 L85.40,323.83 L86.40,322.29 L87.40,320.76 L88.40,319.25 L89.40,317.77 L90.40,316.30 L91.40,314.85 L92.40,313.42 L93.40,312.02 L94.40,310.63 L95.40,309.27 L96.40,307.92 L97.40,306.60 L98.40,305.30 L99.40,304.01 L100.40,302.75 L101.40,301.51 L102.40,300.29 L103.40,299.09 L104.40,297.91 L105.40,296.75 L106.40,295.60 L107.40,294.47 L108.40,293.36 L109.40,292.26 L110.40,291.17 L111.40,290.11 L112.40,289.05 L113.40,288.01 L114.40,286.97 L115.40,285.96 L116.40,284.95 L117.40,283.95 L118.40,282.96 L119.40,281.98 L120.40,281.00 L121.40,280.04 L122.40,279.08 L123.40,278.13 L124.40,277.18 L125.40,276.24 L126.40,275.30 L127.40,274.37 L128.40,273.44 L129.40,272.51 L130.40,271.58 L131.40,270.65 L132.40,269.73 L133.40,268.80 L134.40,267.88 L135.40,266.96 L136.40,266.04 L137.40,265.12 L138.40,264.20 L139.40,263.29 L140.40,262.37 L141.40,261.46 L142.40,260.55 L143.40,259.63 L144.40,258.72 L145.40,257.82 L146.40,256.91 L147.40,256.00 L148.40,255.10 L149.40,254.19 L150.40,253.29 L151.40,252.39 L152.40,251.49 L153.40,250.59 L154.40,249.70 L155.40,248.80 L156.40,247.91 L157.40,247.02 L158.40,246.12 L159.40,245.23 L160.40,244.35 L161.40,243.46 L162.40,242.57 L163.40,241.69 L164.40,240.81 L165.40,239.92 L166.40,239.04 L167.40,238.17 L168.40,237.29 L169.40,236.41 L170.40,235.54 L171.40,234.66 L172.40,233.79 L173.40,232.92 L174.40,232.05 L175.40,231.18 L176.40,230.31 L177.40,229.44 L178.40,228.57 L179.40,227.70 L180.40,226.83 L181.40,225.97 L182.40,225.10 L183.40,224.23 L184.40,223.37 L185.40,222.50 L186.40,221.64 L187.40,220.77 L188.40,219.91 L189.40,219.04 L190.40,218.18 L191.40,217.32 L192.40,216.45 L193.40,215.59 L194.40,214.72 L195.40,213.85 L196.40,212.99 L197.40,212.12 L198.40,211.26 L199.40,210.39 L200.40,209.52 L201.40,208.65 L202.40,207.78 L203.40,206.91 L204.40,206.04 L205.40,205.17 L206.40,204.30 L207.40,203.42 L208.40,202.55 L209.40,201.68 L210.40,200.80 L211.40,199.92 L212.40,199.04 L213.40,198.16 L214.40,197.28 L215.40,196.40 L216.40,195.52 L217.40,194.63 L218.40,193.74 L219.40,192.86 L220.40,191.97 L221.40,191.08 L222.40,190.18 L223.40,189.29 L224.40,188.39 L225.40,187.49 L226.40,186.59 L227.40,185.69 L228.40,184.79 L229.40,183.88 L230.40,182.98 L231.40,182.07 L232.40,181.16 L233.40,180.24 L234.40,179.33 L235.40,178.41 L236.40,177.49 L237.40,176.57 L238.40,175.65 L239.40,174.73 L240.40,173.80 L241.40,172.87 L242.40,171.94 L243.40,171.01 L244.40,170.08 L245.40,169.15 L246.40,168.21 L247.40,167.27 L248.40,166.33 L249.40,165.39 L250.40,164.44 L251.40,163.50 L252.40,162.55 L253.40,161.60 L254.40,160.65 L255.40,159.70 L256.40,158.74 L257.40,157.79 L258.40,156.83 L259.40,155.86 L260.40,154.90 L261.40,153.93 L262.40,152.96 L263.40,151.99 L264.40,151.02 L265.40,150.04 L266.40,149.05 L267.40,148.07 L268.40,147.08 L269.40,146.08 L270.40,145.09 L271.40,144.08 L272.40,143.08 L273.40,142.06 L274.40,141.05 L275.40,140.03 L276.40,139.00 L277.40,137.97 L278.40,136.93 L279.40,135.89 L280.40,134.84 L281.40,133.79 L282.40,132.73 L283.40,131.66 L284.40,130.59 L285.40,129.51 L286.40,128.42 L287.40,127.33 L288.40,126.23 L289.40,125.12 L290.40,124.01 L291.40,122.89 L292.40,121.76 L293.40,120.62 L294.40,119.48 L295.40,118.33 L296.40,117.17 L297.40,116.00 L298.40,114.83 L299.40,113.65 L300.40,112.46 L301.40,111.26 L302.40,110.06 L303.40,108.85 L304.40,107.63 L305.40,106.41 L306.40,105.17 L307.40,103.94 L308.40,102.69 L309.40,101.44 L310.40,100.17 L311.40,98.91 L312.40,97.63 L313.40,96.35 L314.40,95.06 L315.40,93.76 L316.40,92.46 L317.40,91.15 L318.40,89.83 L319.40,88.50 L320.40,87.17 L321.40,85.83 L322.40,84.48 L323.40,83.13 L324.40,81.77 L325.40,80.40 L326.40,79.02 L327.40,77.64 L328.40,76.25 L329.40,74.86 L330.40,73.45 L331.40,72.04 L332.40,70.63 L333.40,69.20 L334.40,67.77 L335.40,66.33 L336.40,64.89 L337.40,63.44 L338.40,61.98 L339.40,60.51 L340.40,59.04 L341.40,57.56 L342.40,56.07 L343.40,54.58 L344.40,53.08 L345.40,51.57 L346.40,50.06 L347.40,48.54 L348.40,47.01 L349.40,45.47 L350.40,43.93 L351.40,42.39 L352.40,40.83 L353.40,39.27 L354.40,37.70 L355.40,36.13 L356.40,34.54 L357.40,32.96 L358.40,31.36 L359.00,30.40" fill="none" stroke="#ff0000" stroke-width="2.7" stroke-linejoin="round"/>
</g>
<!-- legend -->
<rect x="411.0" y="196.0" width="104.5" height="144.2" fill="#fff" stroke="#1c1c1c" stroke-width="1.25"/>
<g stroke-width="2.7" fill="none">
<line x1="414.2" x2="446.3" y1="207.5" y2="207.5" stroke="#0000ff"/>
<line x1="414.2" x2="446.3" y1="227.8" y2="227.8" stroke="#007fff"/>
<line x1="414.2" x2="446.3" y1="248.1" y2="248.1" stroke="#00ffff"/>
<line x1="414.2" x2="446.3" y1="268.4" y2="268.4" stroke="#7fff7f"/>
<line x1="414.2" x2="446.3" y1="288.7" y2="288.7" stroke="#ffff00"/>
<line x1="414.2" x2="446.3" y1="309.0" y2="309.0" stroke="#ff7f00"/>
<line x1="414.2" x2="446.3" y1="329.3" y2="329.3" stroke="#ff0000"/>
</g>
<g class="leg">
<text x="448.6" y="212.9">cycle1</text>
<text x="448.6" y="233.2">cycle100</text>
<text x="448.6" y="253.5">cycle200</text>
<text x="448.6" y="273.8">cycle300</text>
<text x="448.6" y="294.1">cycle400</text>
<text x="448.6" y="314.4">cycle500</text>
<text x="448.6" y="334.7">cycle599</text>
</g>
<!-- tick labels -->
<g class="tick" text-anchor="middle">
<text x="70.4" y="372.7">0</text>
<text x="183.6" y="372.7">500</text>
<text x="296.9" y="372.7">1000</text>
<text x="410.1" y="372.7">1500</text>
<text x="523.4" y="372.7">2000</text>
</g>
<g class="tick" text-anchor="end">
<text x="63.2" y="356.0">3.6</text>
<text x="63.2" y="302.5">3.65</text>
<text x="63.2" y="248.9">3.7</text>
<text x="63.2" y="195.4">3.75</text>
<text x="63.2" y="142.0">3.8</text>
<text x="63.2" y="88.9">3.85</text>
</g>
<text class="lab" text-anchor="middle" x="289.3" y="393.7">Charging time/s</text>
<text class="lab" text-anchor="middle" transform="translate(22.3,191.8) rotate(-90)">Voltage/V</text>
<text class="ttl" text-anchor="middle" x="296.1" y="21.6">Voltage curve of B1 cell simulating real vehicle data</text>
</svg>
</body></html>
